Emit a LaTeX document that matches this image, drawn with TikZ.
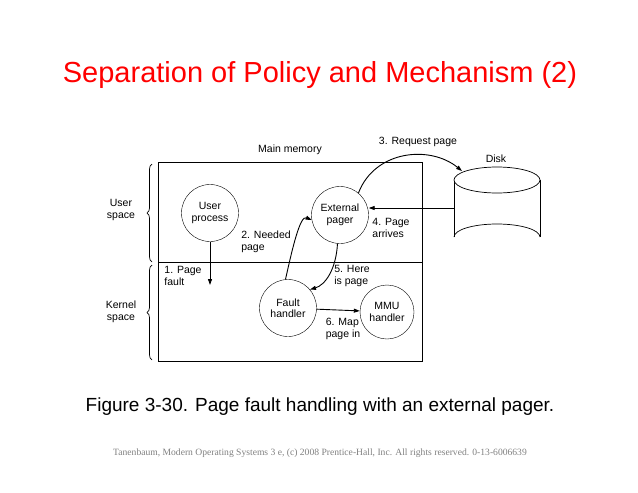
\documentclass[tikz,border=0pt]{standalone}
\usepackage{fontspec}
\setmainfont{Liberation Sans}
\newfontfamily\seriff{Liberation Serif}
\usetikzlibrary{decorations.pathreplacing,arrows.meta}
\begin{document}
\begin{tikzpicture}[x=1pt,y=-1pt,
  circ/.style={draw,circle,minimum size=57pt,inner sep=0pt,align=center,font=\fontsize{10.5}{11.5}\selectfont},
  lbl/.style={font=\fontsize{10.5}{11.5}\selectfont,align=left},
  arr/.style={-{Triangle[length=6pt,width=4pt]},line width=0.9pt},
  thick line/.style={line width=0.7pt}]
\useasboundingbox (0,0) rectangle (638,493);
\node[text=red,font=\fontsize{29}{33}\selectfont] (title) at (320,75) {Separation of Policy and Mechanism (2)};
\draw[thick line] (158,162) rectangle (422,361);
\draw[thick line] (158,262) -- (422,262);
\node[circ] (up) at (210,213) {User\\process};
\node[circ] (ep) at (340,215) {External\\pager};
\node[circ] (fh) at (288,308) {Fault\\handler};
\node[circ,minimum size=54pt] (mmu) at (387,312) {MMU\\handler};
% disk
\draw[thick line] (454,180) -- (454,237) (540,180) -- (540,237);
\draw[thick line,fill=white] (497,180) ellipse (43 and 13);
\draw[thick line] (454,237) arc (180:360:43 and 13);
\coordinate (dtop) at (462,171);
\coordinate (dside) at (454,208);
\coordinate (pf) at (210,285);
\node[lbl] (mm) at (290,150) {Main memory};
\node[lbl] (rp) at (418,142) {3. Request page};
\node[lbl] (disk) at (496,159) {Disk};
\node[lbl] (l1) at (183,276) {1. Page\\fault};
\node[lbl] (l2) at (266,242) {2. Needed\\page};
\node[lbl] (l4) at (391,228) {4. Page\\arrives};
\node[lbl] (l5) at (352,276) {5. Here\\is page};
\node[lbl] (l6) at (343,329) {6. Map\\page in};
\node[lbl,align=center] (us) at (121,210) {User\\space};
\node[lbl,align=center] (ks) at (121,312) {Kernel\\space};
\draw[thick line,decorate,decoration={brace,amplitude=5pt}] (152,262) -- (152,164);
\draw[thick line,decorate,decoration={brace,amplitude=5pt}] (152,360) -- (152,265);
\draw[arr] (up) -- (pf);
\draw[arr] (fh.95) .. controls (292,250) and (300,215) .. (ep.190);
\draw[arr] (ep.265) .. controls (336,270) and (325,285) .. (fh.40);
\draw[arr] (ep.50) .. controls (375,150) and (430,145) .. (dtop);
\draw[arr] (dside) -- (ep.east |- dside);
\draw[arr] (fh) -- (mmu);
\node[font=\fontsize{19}{22}\selectfont] (cap) at (320,407) {Figure 3-30. Page fault handling with an external pager.};
\node[font=\seriff\fontsize{9.6}{11}\selectfont,text=gray] (foot) at (320,453) {Tanenbaum, Modern Operating Systems 3 e, (c) 2008 Prentice-Hall, Inc. All rights reserved. 0-13-6006639};
\end{tikzpicture}
\end{document}
